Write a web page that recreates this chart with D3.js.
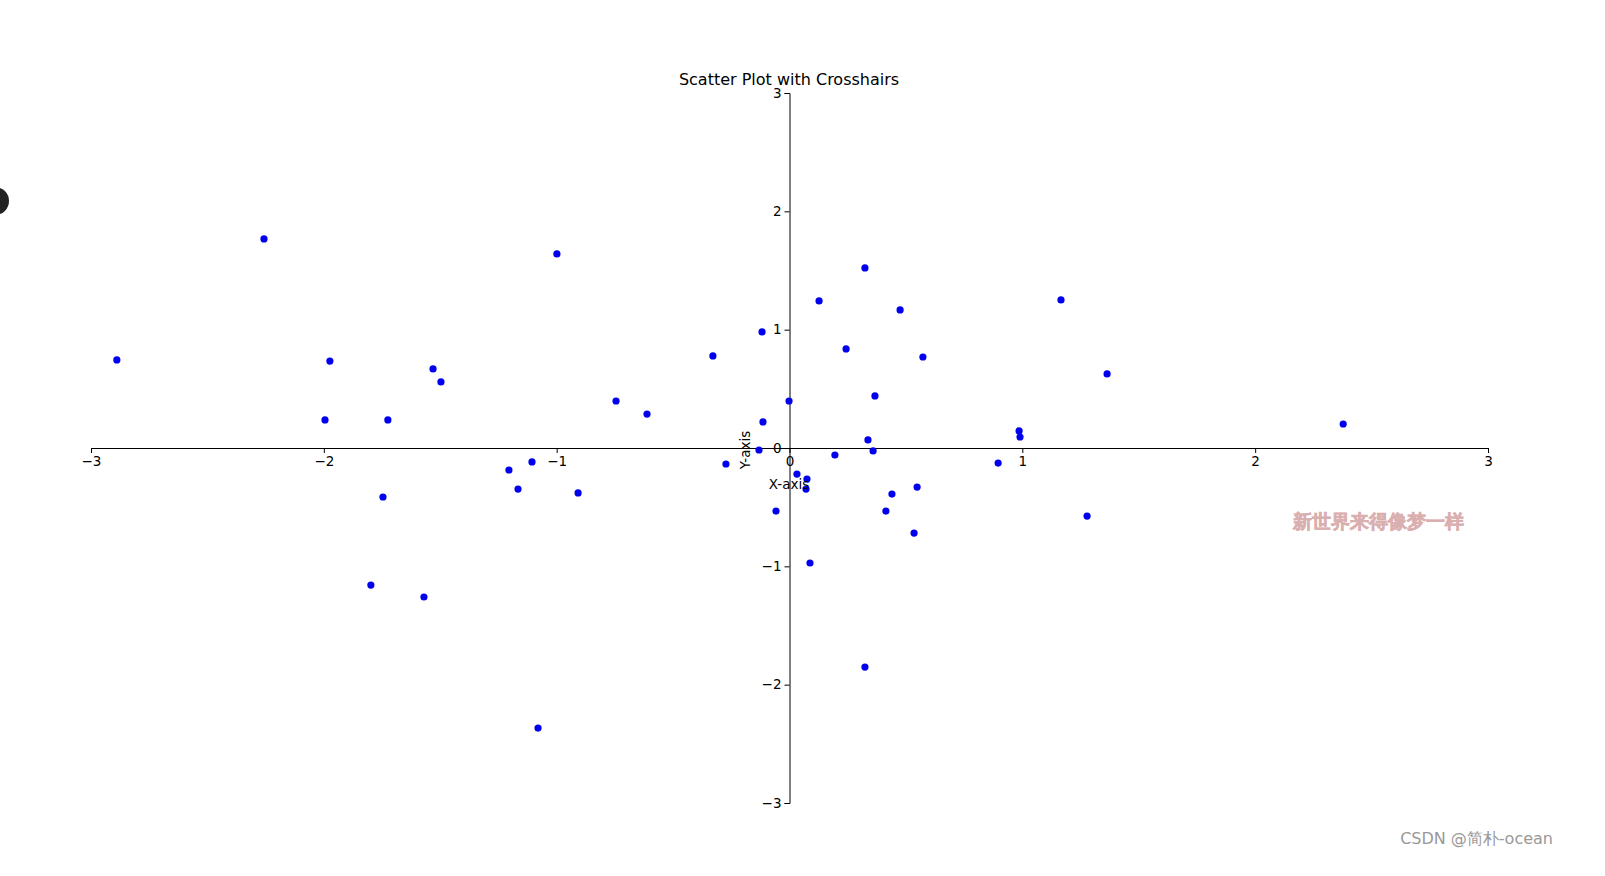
<!DOCTYPE html>
<html><head><meta charset="utf-8">
<script src="https://cdn.jsdelivr.net/npm/d3@7"></script>
<style>body{margin:0;background:#fff;overflow:hidden}text{font-family:"DejaVu Sans",sans-serif}</style>
</head><body>
<svg id="c" width="1605" height="876"></svg>
<script>
const xs = [-2.889,-2.257,-1.974,-1.995,-1.725,-1.746,-1.798,-1.570,-1.531,-1.497,-1.205,-1.106,-1.166,-0.999,-0.908,-1.080,-0.745,-0.612,-0.329,-0.273,-0.118,-0.114,-0.131,-0.058,-0.002,0.032,0.075,0.071,0.088,0.127,0.195,0.243,0.324,0.337,0.359,0.367,0.324,0.414,0.440,0.475,0.535,0.548,0.573,0.896,0.986,0.990,1.166,1.278,1.364,2.378]
const ys = [0.744,1.767,0.735,0.237,0.237,-0.414,-1.158,-1.259,0.668,0.558,-0.186,-0.118,-0.347,1.640,-0.380,-2.367,0.397,0.287,0.778,-0.135,0.981,0.220,-0.017,-0.533,0.397,-0.220,-0.262,-0.347,-0.972,1.243,-0.059,0.837,1.522,0.068,-0.025,0.440,-1.851,-0.533,-0.389,1.167,-0.719,-0.330,0.769,-0.127,0.144,0.093,1.251,-0.575,0.626,0.203]
const ticks = [-3,-2,-1,0,1,2,3]

const svg = d3.select('#c')
const x = d3.scaleLinear().domain([-3,3]).range([91,1488])
const y = d3.scaleLinear().domain([-3,3]).range([803,93])
const fmt = d => d < 0 ? '\u2212' + (-d) : '' + d

svg.append('g').attr('transform','translate(0,'+y(0)+')')
  .call(d3.axisBottom(x).tickValues(ticks).tickFormat(fmt).tickSizeOuter(0).tickSize(5).tickPadding(3))
svg.append('g').attr('transform','translate('+x(0)+',0)')
  .call(d3.axisLeft(y).tickValues(ticks).tickFormat(fmt).tickSizeOuter(0).tickSize(5).tickPadding(3))
svg.selectAll('.tick text').attr('font-size',13.5).attr('fill','#000').attr('font-family','DejaVu Sans')
svg.selectAll('.domain').attr('stroke','#000')

svg.selectAll('circle.p').data(xs).enter().append('circle').attr('class','p')
  .attr('cx',d=>x(d)).attr('cy',(d,i)=>y(ys[i])).attr('r',3.6).attr('fill','#0000ee')

svg.append('text').attr('x',789).attr('y',85).attr('text-anchor','middle').attr('font-size',16).text('Scatter Plot with Crosshairs')
svg.append('text').attr('x',789).attr('y',489).attr('text-anchor','middle').attr('font-size',13.5).text('X-axis')
svg.append('text').attr('transform','translate(750,450) rotate(-90)').attr('text-anchor','middle').attr('font-size',13.5).text('Y-axis')
svg.append('text').attr('x',1378).attr('y',528).attr('text-anchor','middle').attr('font-size',19).attr('font-weight','bold')
  .attr('fill','#f2a4a4').attr('stroke','#d8b0b0').attr('stroke-width',0.5).attr('font-family','Noto Sans CJK SC').text('新世界来得像梦一样')
svg.append('text').attr('x',1553).attr('y',844).attr('text-anchor','end').attr('font-size',16).attr('fill','#999')
  .attr('font-family','Noto Sans CJK SC').text('CSDN @简朴-ocean')
svg.append('circle').attr('cx',-5).attr('cy',201).attr('r',14).attr('fill','#222')
</script>
</body></html>
